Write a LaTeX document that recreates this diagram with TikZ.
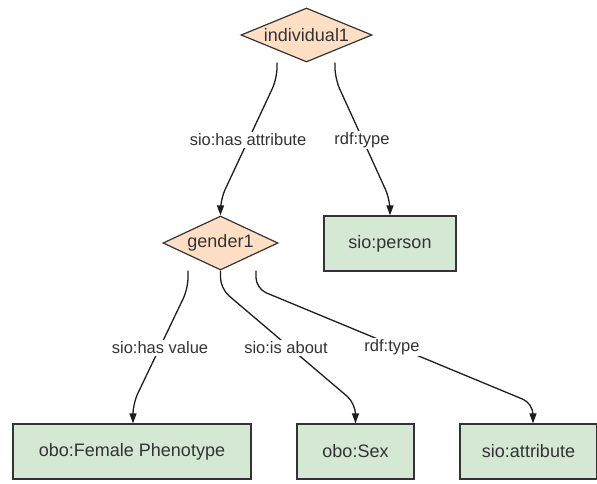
\documentclass[tikz,border=0pt]{standalone}
\usepackage{fontspec}
\setmainfont{Liberation Sans}
\usetikzlibrary{shapes.geometric,arrows.meta,calc}
\definecolor{dfill}{HTML}{FFDFC4}
\definecolor{bfill}{HTML}{D5E8D4}
\definecolor{ink}{HTML}{333333}
\definecolor{edgecol}{HTML}{1E1E1E}
\begin{document}
\begin{tikzpicture}[x=1pt,y=-1pt,
  dnode/.style={diamond,draw=ink,fill=dfill,line width=1.2pt,inner sep=0pt,text=ink,font=\fontsize{18}{20}\selectfont},
  bnode/.style={rectangle,draw=ink,fill=bfill,line width=1.2pt,minimum height=55pt,inner sep=0pt,text=ink,font=\fontsize{18}{20}\selectfont},
  conn/.style={draw=edgecol,line width=1.3pt,rounded corners=11pt,-{Triangle[width=7pt,length=10pt]}},
  lbl/.style={fill=white,inner sep=1.5pt,text=ink,font=\fontsize{16.5}{18}\selectfont}]
\useasboundingbox (0,0) rectangle (597,483);
\fill[white] (0,0) rectangle (597,483);

% nodes
\node[dnode,aspect=2.43,minimum width=131pt,minimum height=54pt] (ind) at (306.5,35) {individual1};
\node[dnode,aspect=2.13,minimum width=115pt,minimum height=54pt] (gen) at (220.5,243) {gender1};
\node[bnode,minimum width=132pt] (per) at (390,243.5) {sio:person};
\node[bnode,minimum width=238pt] (fem) at (132,451.5) {obo:Female Phenotype};
\node[bnode,minimum width=117pt] (sex) at (355.5,451.5) {obo:Sex};
\node[bnode,minimum width=137pt] (att) at (528.5,451.5) {sio:attribute};

% connectors
\draw[conn] ([xshift=-29.5pt]ind.south) -- ++(0,16) -- ($(gen.north)+(0,-16)$) -- (gen.north);
\draw[conn] ([xshift=28.5pt]ind.south) -- ++(0,16) -- ($(per.north)+(0,-16)$) -- (per.north);
\draw[conn] ([xshift=-32.5pt]gen.south) -- ++(0,18) -- ($(fem.north)+(1,-20)$) -- ([xshift=1pt]fem.north);
\draw[conn] (gen.south) -- ++(0,18) -- ($(sex.north)+(0,-20)$) -- (sex.north);
\draw[conn] ([xshift=35.5pt]gen.south) -- ++(0,18) -- ($(att.north)+(4.5,-20)$) -- ([xshift=4.5pt]att.north);

% labels
\node[lbl] (l1) at (248,140) {sio:has attribute};
\node[lbl] (l2) at (362,140) {rdf:type};
\node[lbl] (l3) at (160,348) {sio:has value};
\node[lbl] (l4) at (286,348) {sio:is about};
\node[lbl] (l5) at (392,347) {rdf:type};
\end{tikzpicture}
\end{document}
